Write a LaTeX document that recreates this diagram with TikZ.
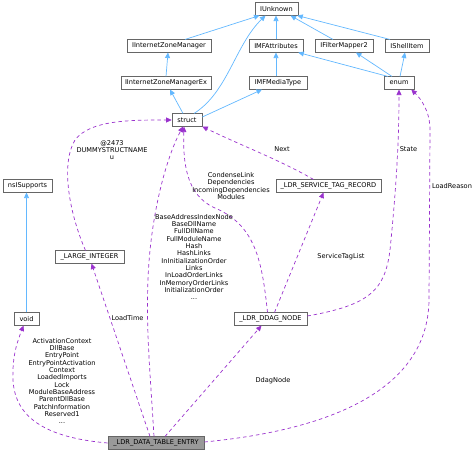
\documentclass[tikz,border=0pt]{standalone}
\usepackage{fontspec}
\setmainfont{DejaVu Sans}
\usetikzlibrary{arrows.meta}
\definecolor{inhblue}{HTML}{63B8FF}
\definecolor{relpurple}{HTML}{9A32CD}
\definecolor{boxgray}{HTML}{666666}
\definecolor{rootfill}{HTML}{999999}
\tikzset{
  box/.style={draw=boxgray, line width=0.6pt, fill=white, minimum height=12.5pt, inner sep=0pt, text=black, font=\fontsize{6.6}{7.3}\selectfont},
  rootbox/.style={box, fill=rootfill},
  inh/.style={draw=inhblue, line width=0.7pt, -{Triangle[length=5.5pt,width=5pt]}},
  rel/.style={draw=relpurple, line width=0.7pt, dash pattern=on 3.5pt off 3pt, -{Triangle[length=5.5pt,width=5pt]}},
  lbl/.style={font=\fontsize{6.6}{7.3}\selectfont, align=center, text=black, inner sep=0pt}
}
\begin{document}
\begin{tikzpicture}[x=1pt,y=-1pt]
\useasboundingbox (0,0) rectangle (474,452);
% nodes
\node[box, minimum width=43pt] (iunk) at (276.5,9) {IUnknown};
\node[box, minimum width=84pt] (iizm) at (169,46) {IInternetZoneManager};
\node[box, minimum width=54pt] (imfattr) at (276,46) {IMFAttributes};
\node[box, minimum width=58pt] (ifm2) at (344,46) {IFilterMapper2};
\node[box, minimum width=44pt] (isi) at (407,46) {IShellItem};
\node[box, minimum width=90pt] (iizmex) at (166,83) {IInternetZoneManagerEx};
\node[box, minimum width=58pt] (imfmt) at (278,83) {IMFMediaType};
\node[box, minimum width=30pt] (enum) at (399,83) {enum};
\node[box, minimum width=30pt] (struct) at (187,120) {struct};
\node[box, minimum width=49pt] (nsis) at (27.5,186) {nsISupports};
\node[box, minimum width=105pt] (lstr) at (328.5,186) {\_LDR\_SERVICE\_TAG\_RECORD};
\node[box, minimum width=69pt] (li) at (89.5,257) {\_LARGE\_INTEGER};
\node[box, minimum width=25pt] (void) at (26.5,319) {void};
\node[box, minimum width=73pt] (ldn) at (270.5,319) {\_LDR\_DDAG\_NODE};
\node[rootbox, minimum width=96pt] (entry) at (156,443) {\_LDR\_DATA\_TABLE\_ENTRY};
% inheritance edges
\draw[inh] ([xshift=16pt]iizm.north) -- ([xshift=-17pt]iunk.south);
\draw[inh] ([xshift=7pt]struct.north) .. controls (228,92) and (235,45) .. ([xshift=-11pt]iunk.south);
\draw[inh] (imfattr.north) -- (imfattr.north |- iunk.south);
\draw[inh] ([xshift=-11pt]ifm2.north) -- ([xshift=14pt]iunk.south);
\draw[inh] ([xshift=-17pt]isi.north) -- ([xshift=-1pt]iunk.south east);
\draw[inh] (iizmex.north) -- ([xshift=-1pt]iizm.south);
\draw[inh] ([xshift=-4pt]struct.north) -- ([xshift=4pt]iizmex.south);
\draw[inh] ([xshift=-2pt]imfmt.north) -- (imfattr.south);
\draw[inh] ([yshift=3pt]struct.east) -- ([xshift=-16pt]imfmt.south);
\draw[inh] ([xshift=-11pt]enum.north) -- ([xshift=-5pt]imfattr.south east);
\draw[inh] ([xshift=-7pt]enum.north) -- ([xshift=12pt]ifm2.south);
\draw[inh] ([xshift=1pt]enum.north) -- ([xshift=-2pt]isi.south);
\draw[inh] (void.north) -- (void.north |- nsis.south);
% relation edges
\draw[rel] ([xshift=-4pt]li.north) .. controls (70,215) and (60,165) .. (75,140) .. controls (90,120) and (130,120) .. (struct.west);
\draw[rel] ([xshift=-2pt]entry.north) .. controls (150,370) and (146,330) .. (148,280) .. controls (150,220) and (165,160) .. ([xshift=-4pt]struct.south);
\draw[rel] ([xshift=-3pt]ldn.north) .. controls (262,260) and (255,225) .. (215,208) .. controls (185,195) and (183,160) .. ([xshift=-3pt]struct.south);
\draw[rel] ([xshift=-15pt]lstr.north) .. controls (280,160) and (240,145) .. (struct.south east);
\draw[rel] ([xshift=4pt]ldn.north) -- ([xshift=-5pt]lstr.south);
\draw[rel] ([yshift=3pt]ldn.east) .. controls (370,305) and (385,290) .. (390,250) .. controls (395,200) and (399,150) .. (enum.south);
\draw[rel] ([yshift=1pt]entry.east) .. controls (330,430) and (428,390) .. (429,300) -- (430,130) .. controls (430,110) and (420,98) .. ([xshift=-3pt]enum.south east);
\draw[rel] ([xshift=-6pt]entry.north) -- ([xshift=2pt]li.south);
\draw[rel] ([xshift=9pt]entry.north) -- ([xshift=-9pt]ldn.south);
\draw[rel] (entry.west) .. controls (50,438) and (15,420) .. (13,380) .. controls (12,355) and (18,340) .. ([xshift=-3pt]void.south);
% labels
\node[lbl] (l1) at (112,150) {@2473\\DUMMYSTRUCTNAME\\u};
\node[lbl] (l2) at (282,149) {Next};
\node[lbl] (l3) at (408.5,149) {State};
\node[lbl] (l4) at (452,186) {LoadReason};
\node[lbl] (l5) at (231,186) {CondenseLink\\Dependencies\\IncomingDependencies\\Modules};
\node[lbl] (l6) at (194,257) {BaseAddressIndexNode\\BaseDllName\\FullDllName\\FullModuleName\\Hash\\HashLinks\\InInitializationOrder\\Links\\InLoadOrderLinks\\InMemoryOrderLinks\\InitializationOrder\\...};
\node[lbl] (l7) at (341,257) {ServiceTagList};
\node[lbl] (l8) at (127.5,318) {LoadTime};
\node[lbl] (l9) at (273,381) {DdagNode};
\node[lbl] (l10) at (62,381) {ActivationContext\\DllBase\\EntryPoint\\EntryPointActivation\\Context\\LoadedImports\\Lock\\ModuleBaseAddress\\ParentDllBase\\PatchInformation\\Reserved1\\...};
\end{tikzpicture}
\end{document}
